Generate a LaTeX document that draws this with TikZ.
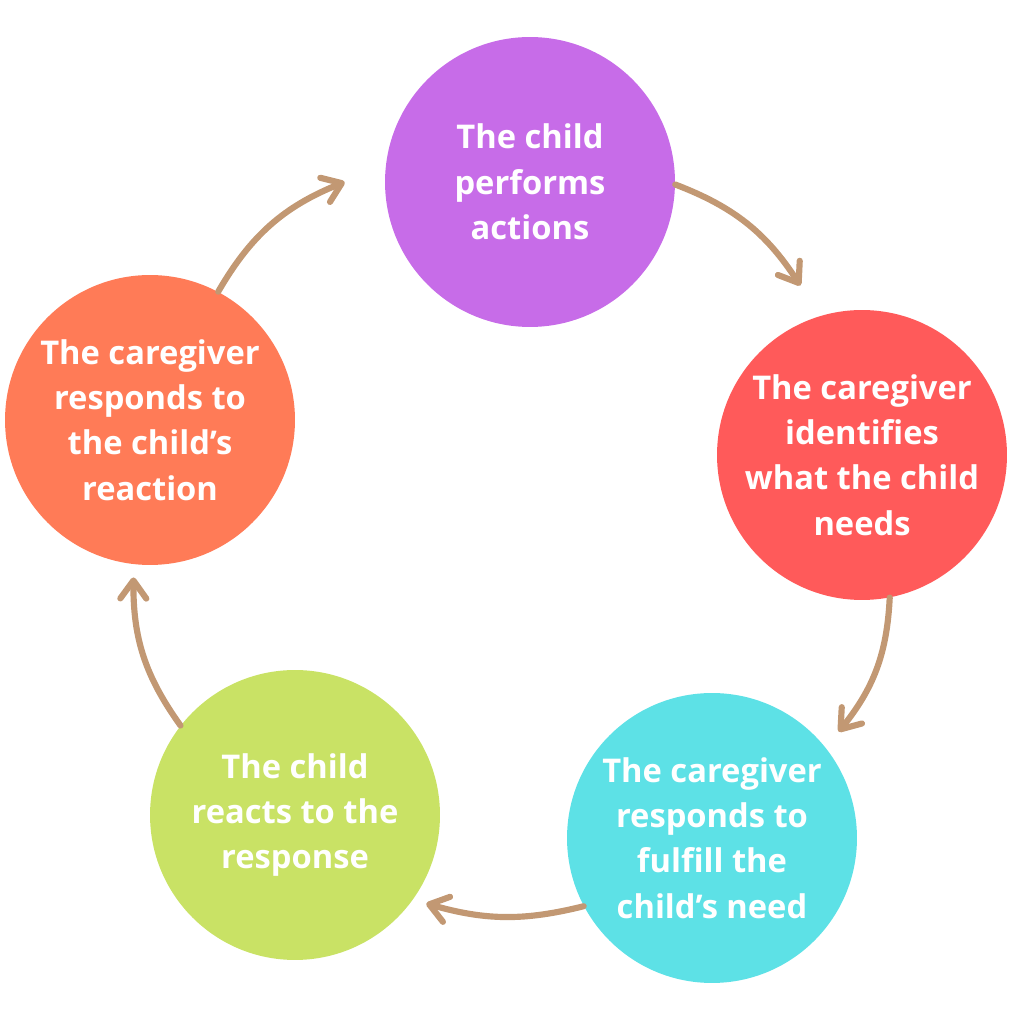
\documentclass[tikz,border=0pt]{standalone}
\usepackage{fontspec}
\setmainfont{Open Sans}
\usepackage{xcolor}
\usetikzlibrary{arrows.meta}
\definecolor{Violet}{HTML}{C76CE8}
\definecolor{Coral}{HTML}{FF5A5A}
\definecolor{Aqua}{HTML}{5DE1E6}
\definecolor{Lime}{HTML}{C9E265}
\definecolor{Tangerine}{HTML}{FF7B57}
\definecolor{Tan}{HTML}{C29873}
\begin{document}
\begin{tikzpicture}[
  x=0.02cm,y=0.02cm,
  stage/.style={circle,minimum size=5.8cm,inner sep=0pt,align=center,
    text=white,font=\fontsize{18.6}{25.8}\selectfont\bfseries},
  arr/.style={-{Straight Barb[length=3.6mm,width=5.2mm,round]},
    line width=3.5pt,line cap=round,color=Tan}
]
\useasboundingbox (0,0) rectangle (1024,1024);
% The five stages of the cycle.
\node[stage,fill=Violet] (acts) at (530,842)
  {The child\\performs\\actions};
\node[stage,fill=Coral] (identifies) at (862,569)
  {The caregiver\\identifies\\what the child\\needs};
\node[stage,fill=Aqua] (fulfills) at (712,186)
  {The caregiver\\responds to\\fulfill the\\child’s need};
\node[stage,fill=Lime] (reacts) at (295,209)
  {The child\\reacts to the\\response};
\node[stage,fill=Tangerine] (answers) at (150,604)
  {The caregiver\\responds to\\the child’s\\reaction};

% Arrows running clockwise.
\draw[arr] (answers.62) to[bend left=19] ([shift={(180:40)}]acts.180);
\draw[arr] (acts.-1) to[bend left=18] ([shift={(110:35)}]identifies.110);
\draw[arr] (identifies.-79) to[bend left=18] ([shift={(40:20)}]fulfills.40);
\draw[arr] (fulfills.208) to[bend left=15] ([shift={(-34:13)}]reacts.-34);
\draw[arr] (reacts.142) to[bend left=18] ([shift={(264:13)}]answers.264);
\end{tikzpicture}
\end{document}
